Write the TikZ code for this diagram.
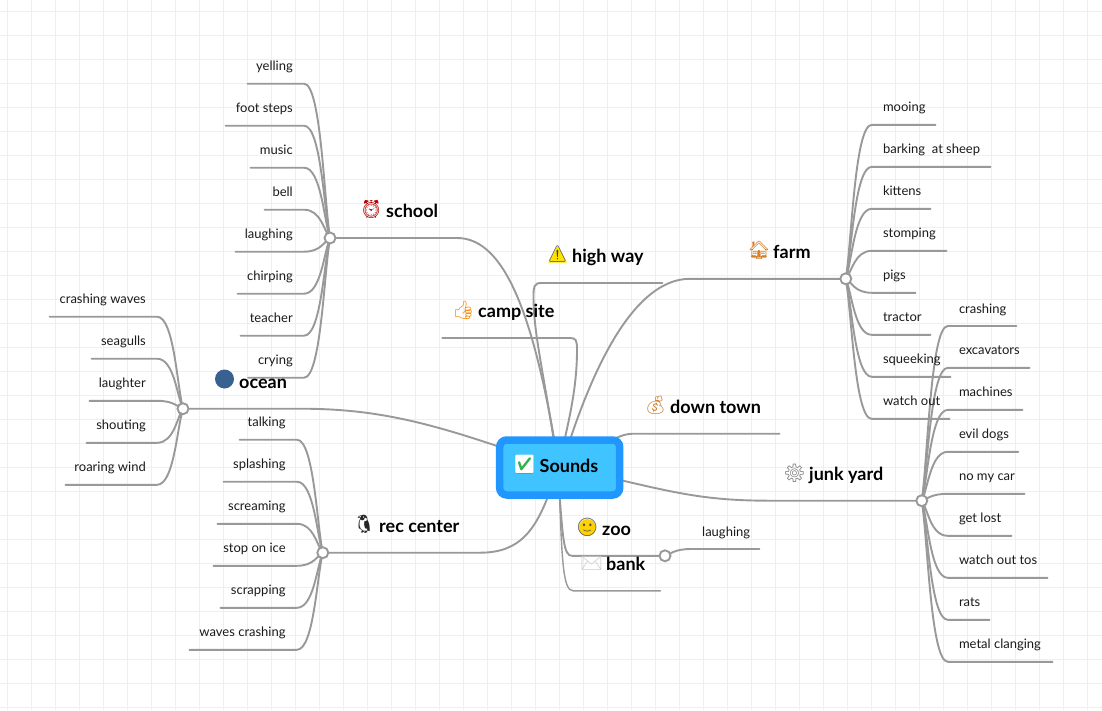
\documentclass[tikz,border=0pt]{standalone}
\usepackage{fontspec}
\usetikzlibrary{calc,shapes.geometric}
\setmainfont{Lato}
\newfontfamily\emojifont{Noto Emoji}
\definecolor{gridc}{HTML}{EFF1E9}
\definecolor{linec}{HTML}{999999}
\definecolor{boxborder}{HTML}{2196FF}
\definecolor{boxfill}{HTML}{40C4FF}
\definecolor{ink}{HTML}{1A1A1A}
\definecolor{oceanblue}{HTML}{386090}
\definecolor{checkgreen}{HTML}{2EB24A}
\pgfdeclarelayer{gridlayer}
\pgfdeclarelayer{lines}
\pgfsetlayers{gridlayer,lines,main}
\tikzset{
  gridline/.style={draw=gridc,line width=1pt},
  conn/.style={draw=linec,line width=1.9pt,line cap=round},
  hubnode/.style={circle,draw=linec,line width=1.9pt,fill=white,minimum size=11pt,inner sep=0pt},
  leaftext/.style={inner sep=0pt,font=\fontsize{13}{15}\selectfont,text=ink},
  topic/.style={inner sep=0pt,anchor=base west,font=\fontsize{18}{21}\bfseries\selectfont,text=black},
  emoji/.style={inner sep=0pt,font=\fontsize{18}{21}\emojifont\selectfont},
}
% name, text, hub, dir, y of underline, far x of underline
\newcommand{\leaf}[6]{%
  \coordinate (#1e) at (#6,#5);
  \ifnum#4<0
    \node[leaftext,anchor=base east] (#1) at ($(#3.center|-#1e)+(#4*37,-13)$) {#2};
  \else
    \node[leaftext,anchor=base west] (#1) at ($(#3.center|-#1e)+(#4*37,-13)$) {#2};
  \fi
  \begin{pgfonlayer}{lines}
    \draw[conn] (#3.center) .. controls ($(#3.center)!.25!(#3.center|-#1e)+(#4*6,0)$) and ($(#3.center|-#1e)+(#4*9,0)$) .. ($(#3.center|-#1e)+(#4*26,0)$) -- (#1e);
  \end{pgfonlayer}
}
\begin{document}
\begin{tikzpicture}[x=1pt,y=-1pt]
\useasboundingbox (0,0) rectangle (1102,710);
\begin{pgfonlayer}{gridlayer}
  \fill[white] (0,0) rectangle (1102,710);
  \foreach \gx in {0,...,45} \draw[gridline] ({7.5+24*\gx},0) -- ({7.5+24*\gx},710);
  \foreach \gy in {0,...,29} \draw[gridline] (0,{11.5+24*\gy}) -- (1102,{11.5+24*\gy});
\end{pgfonlayer}

% centre
\node[draw=boxborder,fill=boxfill,line width=7.5pt,rounded corners=7pt,minimum width=120pt,minimum height=55pt,inner sep=0pt] (root) at (559.7,467.5) {};
\node[topic] (rootlabel) at (539.5,472.3) {Sounds};

% hubs
\node[hubnode] (school) at (330,238) {};
\node[hubnode] (ocean) at (183,408.7) {};
\node[hubnode] (rec) at (322.8,552.7) {};
\node[hubnode] (farm) at (845.8,278.8) {};
\node[hubnode] (junk) at (921.8,500.7) {};
\node[hubnode] (zoo) at (665,555.8) {};

% topic labels
\node[topic] (schooll) at (386,217.5) {school};
\node[topic] (highl) at (572,262.3) {high way};
\node[topic] (campl) at (478,317.3) {camp site};
\node[topic] (farml) at (773,258.3) {farm};
\node[topic] (downl) at (670,413.3) {down town};
\node[topic] (junkl) at (809,480.5) {junk yard};
\node[topic] (oceanl) at (239,388.3) {ocean};
\node[topic] (recl) at (379,532.5) {rec center};
\node[topic] (zool) at (602,535.5) {zoo};
\node[topic] (bankl) at (606,570.5) {bank};

% icons
\fill[checkgreen,rounded corners=2pt] (515.5,455.5) rectangle (533.5,473.5);
\node[emoji,text=white] (rooticon) at (524.5,464.5) {✅};
\node[circle,fill=white,minimum size=15pt,inner sep=0pt] (schoolback) at (371.3,210) {};
\node[emoji,text=red!70!black] (schoolicon) at (371.3,209.5) {⏰};
\fill[yellow!85!orange] (557.5,246) -- (566.8,262.5) -- (548.2,262.5) -- cycle;
\node[emoji,text=black!75,font=\fontsize{16}{18}\emojifont\selectfont] (highicon) at (557.5,254.5) {⚠};
\node[emoji,text=orange!90!yellow] (campicon) at (463.5,310) {👍};
\node[emoji,text=brown!70!orange] (farmicon) at (759,250.5) {🏠};
\node[emoji,text=brown!70!orange] (downicon) at (655.5,405.5) {💰};
\node[emoji,text=black!55] (junkicon) at (794.5,473) {⚙};
\node[emoji,text=black!85] (recicon) at (364,524) {🐧};
\node[circle,fill=yellow!70!orange,minimum size=17pt,inner sep=0pt] (zooback) at (587.3,527.5) {};
\node[emoji,text=black!70] (zooicon) at (587.3,527.5) {🙂};
\node[emoji,text=black!20] (bankicon) at (591.5,563) {✉};
\fill[oceanblue] (224.5,379) circle (9.5);

% main connectors
\coordinate (highe) at (662.5,283);
\coordinate (campe) at (442.3,338);
\coordinate (downe) at (779.5,433.7);
\coordinate (banke) at (660.5,590.8);
\begin{pgfonlayer}{lines}
  \draw[conn] (school.center) -- (457,238) .. controls (500,238) and (530,300) .. ($(root.north)+(-5.5,3)$);
  \draw[conn] ($(root.north)+(-6,3)$) .. controls (541,360) and (533.5,330) .. (533.5,296) .. controls (533.5,287) and (534,283) .. (541,283) -- (highe);
  \draw[conn] (campe) -- (570,338) .. controls (576,338) and (577,340) .. (577,350) .. controls (577,385) and (570,415) .. ($(root.north)+(5,3)$);
  \draw[conn] (farm.center) -- (690,278.8) .. controls (640,278.8) and (600,350) .. ($(root.north)+(10.5,3)$);
  \draw[conn] (downe) -- (635,433.7) .. controls (625,433.7) and (620,436) .. (610,441);
  \draw[conn] (junk.center) -- (770,500.7) .. controls (710,500.7) and (680,494) .. (620,480);
  \draw[conn] (ocean.center) -- (300,408.7) .. controls (370,408.7) and (420,420) .. (500,447);
  \draw[conn] (rec.center) -- (480,552.7) .. controls (520,552.7) and (535,530) .. (549,494);
  \draw[conn] (zoo.center) -- (572,555.8) .. controls (564,555.8) and (563,540) .. (559.5,495);
  \draw[draw=linec,line width=1.4pt,line cap=round] (559.5,495) .. controls (562,560) and (563,590.8) .. (573,590.8) -- (banke);
\end{pgfonlayer}

% leaves
\leaf{s1}{yelling}{school}{-1}{83.7}{247.5}
\leaf{s2}{foot steps}{school}{-1}{125.7}{225.5}
\leaf{s3}{music}{school}{-1}{167.7}{250.5}
\leaf{s4}{bell}{school}{-1}{209.7}{264.5}
\leaf{s5}{laughing}{school}{-1}{251.7}{235.5}
\leaf{s6}{chirping}{school}{-1}{293.7}{237.5}
\leaf{s7}{teacher}{school}{-1}{335.7}{240.5}
\leaf{s8}{crying}{school}{-1}{377.7}{248}

\leaf{o1}{crashing waves}{ocean}{-1}{316.7}{49.5}
\leaf{o2}{seagulls}{ocean}{-1}{358.7}{91.5}
\leaf{o3}{laughter}{ocean}{-1}{400.8}{89.5}
\leaf{o4}{shouting}{ocean}{-1}{442.8}{86.5}
\leaf{o5}{roaring wind}{ocean}{-1}{484.8}{65.5}

\leaf{r1}{talking}{rec}{-1}{439.7}{239.5}
\leaf{r2}{splashing}{rec}{-1}{481.7}{223.5}
\leaf{r3}{screaming}{rec}{-1}{523.8}{217.5}
\leaf{r4}{stop on ice}{rec}{-1}{565.8}{213.5}
\leaf{r5}{scrapping}{rec}{-1}{607.8}{220.5}
\leaf{r6}{waves crashing}{rec}{-1}{649.8}{189.5}

\leaf{f1}{mooing}{farm}{1}{124.8}{935.5}
\leaf{f2}{barking\ \ at sheep}{farm}{1}{166.8}{990.5}
\leaf{f3}{kittens}{farm}{1}{208.8}{930.5}
\leaf{f4}{stomping}{farm}{1}{250.8}{946.5}
\leaf{f5}{pigs}{farm}{1}{292.8}{915.5}
\leaf{f6}{tractor}{farm}{1}{334.8}{930.5}
\leaf{f7}{squeeking}{farm}{1}{376.8}{950.5}
\leaf{f8}{watch out}{farm}{1}{418.9}{949.5}

\leaf{j1}{crashing}{junk}{1}{326}{1016.5}
\leaf{j2}{excavators}{junk}{1}{367.8}{1029.5}
\leaf{j3}{machines}{junk}{1}{409.9}{1022.5}
\leaf{j4}{evil dogs}{junk}{1}{451.8}{1018.3}
\leaf{j5}{no my car}{junk}{1}{493.8}{1024.5}
\leaf{j6}{get lost}{junk}{1}{535.8}{1011.5}
\leaf{j7}{watch out tos}{junk}{1}{577.8}{1047.5}
\leaf{j8}{rats}{junk}{1}{619.8}{989.5}
\leaf{j9}{metal clanging}{junk}{1}{661.8}{1052.5}

\leaf{z1}{laughing}{zoo}{1}{549}{759.5}
\end{tikzpicture}
\end{document}
